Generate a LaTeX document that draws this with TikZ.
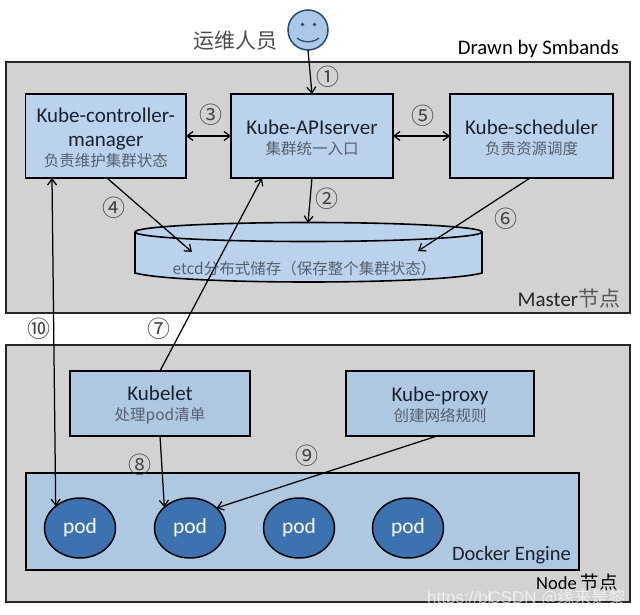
\documentclass[tikz,border=0pt]{standalone}
\usepackage{fontspec}
\usetikzlibrary{shapes.geometric,arrows.meta}
\setmainfont{Carlito}
\newfontfamily\cjk{Noto Sans CJK SC}
\newfontfamily\wm{Liberation Sans}
\definecolor{panel}{HTML}{D2D2D2}
\definecolor{boxa}{HTML}{BBD2EC}
\definecolor{boxb}{HTML}{AFC8E2}
\definecolor{podc}{HTML}{3C72B0}
\definecolor{ink}{HTML}{1A2230}
\definecolor{sub}{HTML}{55606E}
\definecolor{numc}{HTML}{444444}
\definecolor{facec}{HTML}{A9C8EA}
\definecolor{faceline}{HTML}{2A4A6C}
\tikzset{
  x=1pt,y=-1pt,
  panelbox/.style={draw=black!85,line width=1.3pt,fill=panel,minimum width=624pt,inner sep=0pt,outer sep=0pt},
  box/.style={draw=black,line width=1.6pt,fill=boxa,inner sep=0pt,outer sep=0pt,text=ink,align=center,font=\fontsize{21}{24}\selectfont},
  lbox/.style={box,fill=boxb,minimum width=180pt,minimum height=65pt},
  pod/.style={ellipse,draw=black,line width=1.5pt,fill=podc,text=white,minimum width=71pt,minimum height=60pt,inner sep=0pt,outer sep=0pt,font=\fontsize{21.5}{23}\selectfont},
  num/.style={font=\fontsize{23}{25}\cjk,text=numc,inner sep=0pt},
  lab/.style={inner sep=0pt,text=ink},
  arr/.style={draw=black,line width=1.25pt,-{Straight Barb[length=6pt,width=9pt,line width=1.25pt]}},
  darr/.style={draw=black,line width=1.25pt,{Straight Barb[length=6pt,width=9pt,line width=1.25pt]}-{Straight Barb[length=6pt,width=9pt,line width=1.25pt]}},
  wmark/.style={inner sep=0pt,font=\fontsize{17}{19}\wm,text=white,opacity=0.65}
}
\newcommand{\subt}[1]{{\fontsize{15.5}{17}\cjk\color{sub}#1}}
\newcommand{\tp}{\rule{0pt}{18pt}}
\newcommand{\podtxt}{\raisebox{-2pt}{pod}}
\begin{document}
\begin{tikzpicture}
\useasboundingbox (0,0) rectangle (640,615);
\fill[white] (0,0) rectangle (640,615);
% panels
\node[panelbox,minimum height=251pt] (master) at (318,187.5) {};
\node[panelbox,minimum height=257pt] (nodep) at (318,473.5) {};
% smiley
\node[circle,draw=faceline,line width=1.5pt,fill=facec,minimum size=40pt,inner sep=0pt,outer sep=0pt] (face) at (308,30) {};
\fill[faceline] (302.5,24.5) circle (1.8pt) (314.5,24.5) circle (1.8pt);
\draw[faceline,line width=1.3pt] (297,38) .. controls (303,43) and (313,43) .. (319,38);
\node[lab,font=\fontsize{21}{23}\cjk,text=black!70] (ops) at (235.5,41) {运维人员};
\node[lab,font=\fontsize{20.7}{23}\selectfont,text=black] (credit) at (538.5,49) {Drawn by Smbands};
% master boxes
\node[box,minimum width=160.5pt,minimum height=84pt] (ctrl) at (105.75,136) {\tp Kube-controller-\\[0pt]manager\\[-4pt]\subt{负责维护集群状态}};
\node[box,minimum width=162pt,minimum height=84pt] (api) at (312,136) {\tp Kube-APIserver\\[-4pt]\subt{集群统一入口}};
\node[box,minimum width=163pt,minimum height=84pt] (sched) at (531.5,136) {\tp Kube-scheduler\\[-4pt]\subt{负责资源调度}};
% etcd
\node[minimum width=347pt,minimum height=59pt,inner sep=0pt,outer sep=0pt] (etcd) at (308.5,252.5) {};
\draw[black,line width=1.6pt,fill=boxa] (135,232) -- (135,273) .. controls (180,285) and (437,285) .. (482,273) -- (482,232);
\draw[black,line width=1.6pt,fill=boxa] (308.5,232) ellipse (173.5pt and 9.5pt);
\node[lab,font=\fontsize{15.5}{17}\cjk,text=sub] (etcdlab) at (304.5,269) {etcd分布式储存（保存整个集群状态）};
\node[lab,font=\fontsize{21}{23}\selectfont,text=black!85] (mlab) at (569,299) {Master{\cjk\color{black!65}节点}};
% node boxes
\node[lbox] (kubelet) at (160,403.5) {\tp Kubelet\\[-4pt]\subt{处理pod清单}};
\node[lbox,minimum width=188pt] (proxy) at (440,403.5) {\tp Kube-proxy\\[-4pt]\subt{创建网络规则}};
\node[draw=black,line width=1.6pt,fill=boxb,minimum width=553pt,minimum height=97pt,inner sep=0pt,outer sep=0pt] (docker) at (302.5,521.5) {};
\node[pod] (p1) at (80,528) {\podtxt};
\node[pod] (p2) at (190,528) {\podtxt};
\node[pod] (p3) at (299,528) {\podtxt};
\node[pod] (p4) at (408,528) {\podtxt};
\node[lab,font=\fontsize{20.5}{23}\selectfont] (dlab) at (511.5,555) {Docker Engine};
\node[lab,font=\fontsize{18.5}{21}\selectfont,text=black] (nlab) at (577,582) {Node {\cjk 节点}};
% connectors
\draw[arr] (face.south) -- ([xshift=-0.0pt]api.north);
\draw[arr] ([xshift=0pt]api.south) -- ([xshift=-4pt,yshift=-45pt]api.south);
\draw[darr] (ctrl.east) -- (api.west);
\draw[darr] (api.east) -- (sched.west);
\draw[arr] ([xshift=1.25pt]ctrl.south) -- ([xshift=-116.5pt,yshift=0.5pt]etcd.center);
\draw[arr] ([xshift=-1.5pt]sched.south) -- ([xshift=109.5pt,yshift=1.5pt]etcd.center);
\draw[arr] (kubelet.north) -- ([xshift=-50pt]api.south);
\draw[arr] (kubelet.south) -- (p2.141);
\draw[arr] ([xshift=-3pt]proxy.south) -- (p2.37);
\draw[darr] ([xshift=-53.75pt]ctrl.south) -- (p1.138);
% numbers
\node[num] (n1) at (328,77) {①};
\node[num] (n2) at (327,199) {②};
\node[num] (n3) at (211,115) {③};
\node[num] (n4) at (114,208) {④};
\node[num] (n5) at (423,116) {⑤};
\node[num] (n6) at (506,219) {⑥};
\node[num] (n7) at (159,329) {⑦};
\node[num] (n8) at (140,465) {⑧};
\node[num] (n9) at (307,456) {⑨};
\node[num] (n10) at (39,329) {⑩};
% watermark
\node[wmark,anchor=west] (wm1) at (427,598) {https://bl{\hspace{-3pt}}CSDN {\cjk @缘来是黎}};
\end{tikzpicture}
\end{document}
